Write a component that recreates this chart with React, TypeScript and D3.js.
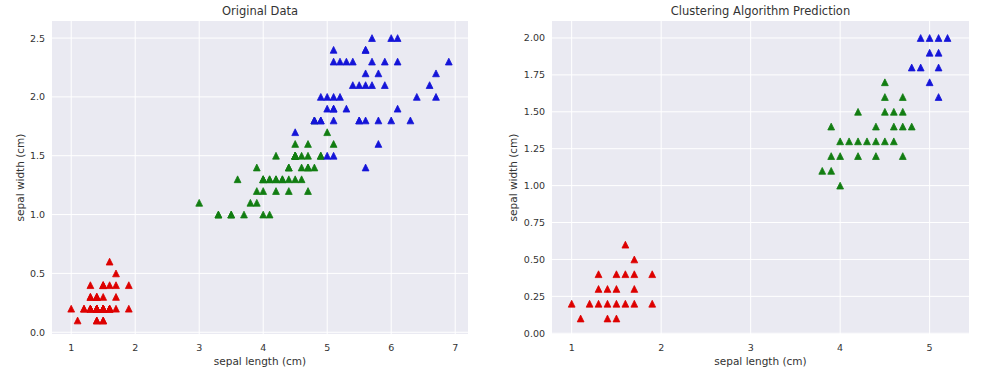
import * as d3 from 'd3'

// Iris petal measurements (labelled "sepal" in the original figure)
const setosaLen = [1.4, 1.4, 1.3, 1.5, 1.4, 1.7, 1.4, 1.5, 1.4, 1.5, 1.5, 1.6, 1.4, 1.1, 1.2, 1.5, 1.3, 1.4, 1.7, 1.5, 1.7, 1.5, 1.0, 1.7, 1.9, 1.6, 1.6, 1.5, 1.4, 1.6, 1.6, 1.5, 1.5, 1.4, 1.5, 1.2, 1.3, 1.4, 1.3, 1.5, 1.3, 1.3, 1.3, 1.6, 1.9, 1.4, 1.6, 1.4, 1.5, 1.4]
const setosaWid = [0.2, 0.2, 0.2, 0.2, 0.2, 0.4, 0.3, 0.2, 0.2, 0.1, 0.2, 0.2, 0.1, 0.1, 0.2, 0.4, 0.4, 0.3, 0.3, 0.3, 0.2, 0.4, 0.2, 0.5, 0.2, 0.2, 0.4, 0.2, 0.2, 0.2, 0.2, 0.4, 0.1, 0.2, 0.2, 0.2, 0.2, 0.1, 0.2, 0.2, 0.3, 0.3, 0.2, 0.6, 0.4, 0.3, 0.2, 0.2, 0.2, 0.2]
const versiLen = [4.7, 4.5, 4.9, 4.0, 4.6, 4.5, 4.7, 3.3, 4.6, 3.9, 3.5, 4.2, 4.0, 4.7, 3.6, 4.4, 4.5, 4.1, 4.5, 3.9, 4.8, 4.0, 4.9, 4.7, 4.3, 4.4, 4.8, 5.0, 4.5, 3.5, 3.8, 3.7, 3.9, 5.1, 4.5, 4.5, 4.7, 4.4, 4.1, 4.0, 4.4, 4.6, 4.0, 3.3, 4.2, 4.2, 4.2, 4.3, 3.0, 4.1]
const versiWid = [1.4, 1.5, 1.5, 1.3, 1.5, 1.3, 1.6, 1.0, 1.3, 1.4, 1.0, 1.5, 1.0, 1.4, 1.3, 1.4, 1.5, 1.0, 1.5, 1.1, 1.8, 1.3, 1.5, 1.2, 1.3, 1.4, 1.4, 1.7, 1.5, 1.0, 1.1, 1.0, 1.2, 1.6, 1.5, 1.6, 1.5, 1.3, 1.3, 1.3, 1.2, 1.4, 1.2, 1.0, 1.3, 1.2, 1.3, 1.3, 1.1, 1.3]
const virgLen = [6.0, 5.1, 5.9, 5.6, 5.8, 6.6, 4.5, 6.3, 5.8, 6.1, 5.1, 5.3, 5.5, 5.0, 5.1, 5.3, 5.5, 6.7, 6.9, 5.0, 5.7, 4.9, 6.7, 4.9, 5.7, 6.0, 4.8, 4.9, 5.6, 5.8, 6.1, 6.4, 5.6, 5.1, 5.6, 6.1, 5.6, 5.5, 4.8, 5.4, 5.6, 5.1, 5.1, 5.9, 5.7, 5.2, 5.0, 5.2, 5.4, 5.1]
const virgWid = [2.5, 1.9, 2.1, 1.8, 2.2, 2.1, 1.7, 1.8, 1.8, 2.5, 2.0, 1.9, 2.1, 2.0, 2.4, 2.3, 1.8, 2.2, 2.3, 1.5, 2.3, 2.0, 2.0, 1.8, 2.1, 1.8, 1.8, 1.8, 2.1, 1.6, 1.9, 2.0, 2.2, 1.5, 1.4, 2.3, 2.4, 1.8, 1.8, 2.1, 2.4, 2.3, 1.9, 2.3, 2.5, 2.3, 1.9, 2.0, 2.3, 1.8]

// predicted clusters
const predRedLen = [1.0, 1.1, 1.2, 1.3, 1.3, 1.3, 1.4, 1.4, 1.4, 1.5, 1.5, 1.5, 1.5, 1.6, 1.6, 1.6, 1.7, 1.7, 1.7, 1.7, 1.9, 1.9]
const predRedWid = [0.2, 0.1, 0.2, 0.2, 0.3, 0.4, 0.1, 0.2, 0.3, 0.1, 0.2, 0.3, 0.4, 0.2, 0.4, 0.6, 0.2, 0.3, 0.4, 0.5, 0.2, 0.4]
const predGreenLen = [4.5, 4.5, 4.7, 4.2, 4.5, 4.6, 4.7, 3.9, 4.4, 4.6, 4.7, 4.8, 4.0, 4.1, 4.2, 4.3, 4.4, 4.5, 4.6, 3.9, 4.0, 4.2, 4.4, 4.7, 3.8, 3.9, 4.0]
const predGreenWid = [1.7, 1.6, 1.6, 1.5, 1.5, 1.5, 1.5, 1.4, 1.4, 1.4, 1.4, 1.4, 1.3, 1.3, 1.3, 1.3, 1.3, 1.3, 1.3, 1.2, 1.2, 1.2, 1.2, 1.2, 1.1, 1.1, 1.0]
const predBlueLen = [4.9, 5.0, 5.1, 5.2, 5.0, 5.1, 4.8, 4.9, 5.1, 5.0, 5.1]
const predBlueWid = [2.0, 2.0, 2.0, 2.0, 1.9, 1.9, 1.8, 1.8, 1.8, 1.7, 1.6]

const leftXTicks = [1, 2, 3, 4, 5, 6, 7]
const leftYTicks = [0, 0.5, 1, 1.5, 2, 2.5]
const rightXTicks = [1, 2, 3, 4, 5]
const rightYTicks = [0, 0.25, 0.5, 0.75, 1, 1.25, 1.5, 1.75, 2]

const RED = '#dd0000'
const GREEN = '#127d12'
const BLUE = '#1414d8'
const FONT = '"DejaVu Sans", sans-serif'
const TEXT = '#333'

interface Series { xs: number[]; ys: number[]; color: string }

interface PanelProps {
  title: string
  box: { x0: number; x1: number; y0: number; y1: number }
  xDomain: [number, number]
  yDomain: [number, number]
  xTicks: number[]
  yTicks: number[]
  yFmt: string
  series: Series[]
}

function triangle(cx: number, cy: number, r: number) {
  return `M${cx},${cy - r}L${cx + r},${cy + r}L${cx - r},${cy + r}Z`
}

function Panel({ title, box, xDomain, yDomain, xTicks, yTicks, yFmt, series }: PanelProps) {
  const x = d3.scaleLinear().domain(xDomain).range([box.x0, box.x1])
  const y = d3.scaleLinear().domain(yDomain).range([box.y1, box.y0])
  const fmt = d3.format(yFmt)
  const cx = (box.x0 + box.x1) / 2
  const cy = (box.y0 + box.y1) / 2

  return (
    <g>
      <rect x={box.x0} y={box.y0} width={box.x1 - box.x0} height={box.y1 - box.y0} fill="#eaeaf2" />
      {xTicks.map(t => (
        <line key={'gx' + t} x1={x(t)} x2={x(t)} y1={box.y0} y2={box.y1} stroke="#fff" strokeWidth={1} />
      ))}
      {yTicks.map(t => (
        <line key={'gy' + t} x1={box.x0} x2={box.x1} y1={y(t)} y2={y(t)} stroke="#fff" strokeWidth={1} />
      ))}
      {series.map((s, si) => (
        <g key={si} fill={s.color} stroke={s.color} strokeWidth={0.8} strokeLinejoin="round">
          {s.xs.map((v, i) => (
            <path key={i} d={triangle(x(v), y(s.ys[i]), 3.4)} />
          ))}
        </g>
      ))}
      {xTicks.map(t => (
        <text key={'tx' + t} x={x(t)} y={box.y1 + 17} textAnchor="middle" fontSize={9.5} fill={TEXT} fontFamily={FONT}>
          {t}
        </text>
      ))}
      {yTicks.map(t => (
        <text key={'ty' + t} x={box.x0 - 7} y={y(t) + 3.5} textAnchor="end" fontSize={9.5} fill={TEXT} fontFamily={FONT}>
          {fmt(t)}
        </text>
      ))}
      <text x={cx} y={box.y1 + 31} textAnchor="middle" fontSize={10.5} fill={TEXT} fontFamily={FONT}>
        sepal length (cm)
      </text>
      <text
        transform={`translate(${box.x0 - (yFmt === '.2f' ? 35 : 28)},${cy}) rotate(-90)`}
        textAnchor="middle"
        fontSize={10.5}
        fill={TEXT}
        fontFamily={FONT}
      >
        sepal width (cm)
      </text>
      <text x={cx} y={box.y0 - 6} textAnchor="middle" fontSize={11.5} fill={TEXT} fontFamily={FONT}>
        {title}
      </text>
    </g>
  )
}

export default function App() {
  return (
    <svg width={984} height={392} style={{ position: 'absolute', left: 0, top: 0, background: '#fff' }}>
      <Panel
        title="Original Data"
        box={{ x0: 52, x1: 468, y0: 21, y1: 334 }}
        xDomain={[0.7, 7.2]}
        yDomain={[-0.015, 2.645]}
        xTicks={leftXTicks}
        yTicks={leftYTicks}
        yFmt=".1f"
        series={[
          { xs: setosaLen, ys: setosaWid, color: RED },
          { xs: versiLen, ys: versiWid, color: GREEN },
          { xs: virgLen, ys: virgWid, color: BLUE },
        ]}
      />
      <Panel
        title="Clustering Algorithm Prediction"
        box={{ x0: 552, x1: 969, y0: 21, y1: 334 }}
        xDomain={[0.78, 5.44]}
        yDomain={[-0.005, 2.115]}
        xTicks={rightXTicks}
        yTicks={rightYTicks}
        yFmt=".2f"
        series={[
          { xs: predRedLen, ys: predRedWid, color: RED },
          { xs: predGreenLen, ys: predGreenWid, color: GREEN },
          { xs: predBlueLen, ys: predBlueWid, color: BLUE },
        ]}
      />
    </svg>
  )
}
